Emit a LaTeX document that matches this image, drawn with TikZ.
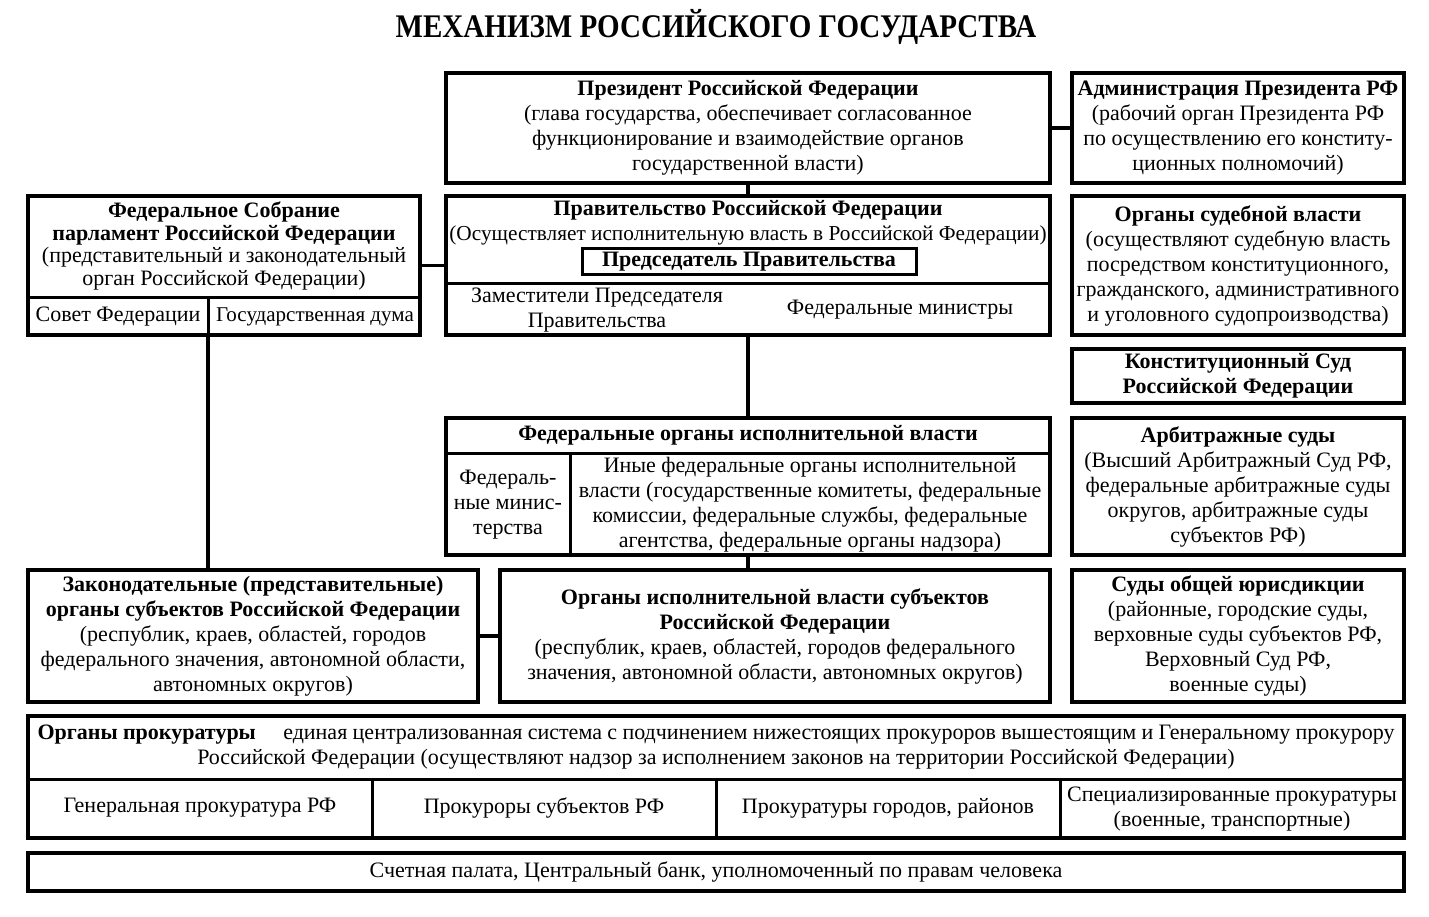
\documentclass[tikz,border=0pt]{standalone}
\usepackage{fontspec}
\setmainfont{Liberation Serif}
\usepackage{graphicx}
\newcommand\bodyfs{\fontsize{22}{25}\selectfont}
\begin{document}
\begin{tikzpicture}[x=1pt,y=-1pt,
  box/.style={draw, line width=3.5pt, inner sep=0pt, align=center, font=\bodyfs},
  lbl/.style={inner sep=0pt, align=center, font=\bodyfs},
  conn/.style={line width=3.5pt},
  sep/.style={line width=3pt}]
\useasboundingbox (0,0) rectangle (1429,917);
% title
\node[inner sep=0pt, font=\fontsize{33}{38}\selectfont\bfseries] (title) at (716,27) {\scalebox{0.88}[1]{МЕХАНИЗМ РОССИЙСКОГО ГОСУДАРСТВА}};
% president
\node[box, minimum width=604, minimum height=110] (pres) at (748,128)
 {\textbf{Президент Российской Федерации}\\(глава государства, обеспечивает согласованное\\функционирование и взаимодействие органов\\государственной власти)};
\node[box, minimum width=332, minimum height=110] (admin) at (1238,128)
 {\textbf{Администрация Президента РФ}\\(рабочий орган Президента РФ\\по осуществлению его конститу-\\ционных полномочий)};
% government
\node[box, minimum width=604, minimum height=139] (gov) at (748,265.5) {};
\node[lbl] (govt) at (748,210) {\textbf{Правительство Российской Федерации}};
\node[lbl, font=\fontsize{21.3}{25}\selectfont] (govd) at (748,235) {(Осуществляет исполнительную власть в Российской Федерации)};
\node[draw, line width=3pt, minimum width=334, minimum height=26, inner sep=0pt, font=\bodyfs\bfseries] (chair) at (749,262) {Председатель Правительства};
\draw[sep] (446,284) -- (1050,284);
\node[lbl] (deps) at (597,310) {Заместители Председателя\\Правительства};
\node[lbl] (mins) at (900,310) {Федеральные министры};
% federal assembly
\node[box, minimum width=392, minimum height=139] (fa) at (224,265.5) {};
\node[lbl, font=\fontsize{22}{22.5}\selectfont] (fat) at (224,246)
 {\textbf{Федеральное Собрание}\\\textbf{парламент Российской Федерации}\\(представительный и законодательный\\орган Российской Федерации)};
\draw[sep] (28,297) -- (420,297);
\draw[sep] (208,297) -- (208,335);
\node[lbl] (sf) at (118,317) {Совет Федерации};
\node[lbl, font=\fontsize{21}{25}\selectfont] (gd) at (315,317) {Государственная дума};
% courts column
\node[box, minimum width=332, minimum height=139] (courts) at (1238,265.5)
 {\textbf{Органы судебной власти}\\(осуществляют судебную власть\\посредством конституционного,\\гражданского, административного\\и уголовного судопроизводства)};
\node[box, minimum width=332, minimum height=54] (ccourt) at (1238,376)
 {\textbf{Конституционный Суд}\\\textbf{Российской Федерации}};
\node[box, minimum width=332, minimum height=137] (arb) at (1238,486.5)
 {\textbf{Арбитражные суды}\\(Высший Арбитражный Суд РФ,\\федеральные арбитражные суды\\округов, арбитражные суды\\субъектов РФ)};
\node[box, minimum width=332, minimum height=132] (gcourts) at (1238,636)
 {\textbf{Суды общей юрисдикции}\\(районные, городские суды,\\верховные суды субъектов РФ,\\Верховный Суд РФ,\\военные суды)};
% federal executive
\node[box, minimum width=604, minimum height=137] (fex) at (748,486.5) {};
\node[lbl] (fext) at (748,435) {\textbf{Федеральные органы исполнительной власти}};
\draw[sep] (446,453) -- (1050,453);
\draw[sep] (570,453) -- (570,555);
\node[lbl] (fmin) at (508,505) {Федераль-\\ные минис-\\терства};
\node[lbl] (foth) at (810,505) {Иные федеральные органы исполнительной\\власти (государственные комитеты, федеральные\\комиссии, федеральные службы, федеральные\\агентства, федеральные органы надзора)};
% subjects
\node[box, minimum width=450, minimum height=132] (leg) at (253,636)
 {\textbf{Законодательные (представительные)}\\\textbf{органы субъектов Российской Федерации}\\(республик, краев, областей, городов\\федерального значения, автономной области,\\автономных округов)};
\node[box, minimum width=550, minimum height=132] (exsub) at (775,636)
 {\textbf{Органы исполнительной власти субъектов}\\\textbf{Российской Федерации}\\(республик, краев, областей, городов федерального\\значения, автономной области, автономных округов)};
% prosecution
\node[box, minimum width=1376, minimum height=122] (pros) at (716,777) {};
\node[lbl] (prost) at (716,735) {\makebox[1357pt][s]{\textbf{Органы прокуратуры}\hspace{22pt} единая централизованная система с подчинением нижестоящих прокуроров вышестоящим и Генеральному прокурору}};
\node[lbl] (prosd) at (716,759) {Российской Федерации (осуществляют надзор за исполнением законов на территории Российской Федерации)};
\draw[sep] (28,779) -- (1404,779);
\draw[sep] (372,779) -- (372,838);
\draw[sep] (716,779) -- (716,838);
\draw[sep] (1060,779) -- (1060,838);
\node[lbl] (p1) at (200,808) {Генеральная прокуратура РФ};
\node[lbl] (p2) at (544,808) {Прокуроры субъектов РФ};
\node[lbl] (p3) at (888,808) {Прокуратуры городов, районов};
\node[lbl] (p4) at (1232,809) {Специализированные прокуратуры\\(военные, транспортные)};
% misc
\node[box, minimum width=1376, minimum height=38] (misc) at (716,872)
 {Счетная палата, Центральный банк, уполномоченный по правам человека};
% connectors
\draw[conn] (pres.east) -- (admin.west);
\draw[conn] (pres.south) -- (gov.north);
\draw[conn] (fa.east) -- (gov.west);
\draw[conn] (gov.south) -- (fex.north);
\draw[conn] (fex.south) -- (fex.south |- exsub.north);
\coordinate (fadiv) at (208,335);
\draw[conn] (fadiv) -- (fadiv |- leg.north);
\draw[conn] (leg.east) -- (exsub.west);
\end{tikzpicture}
\end{document}
